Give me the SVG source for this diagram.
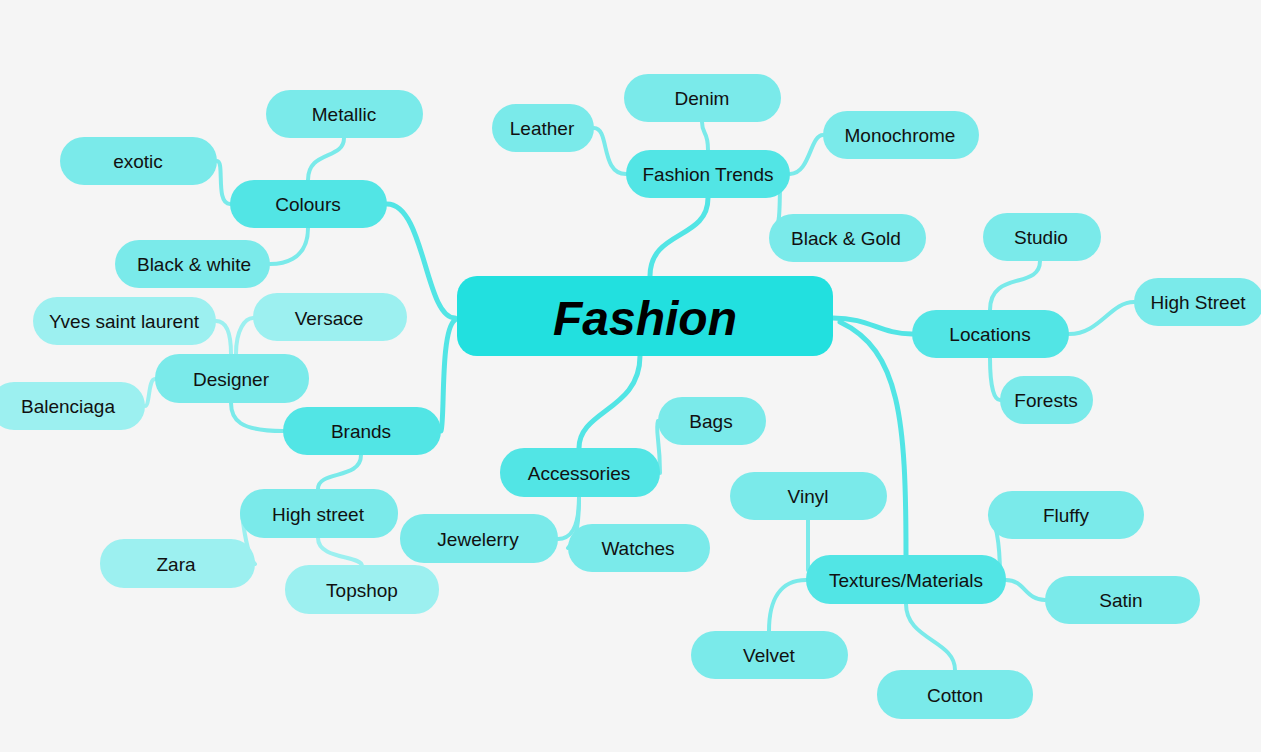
<svg xmlns="http://www.w3.org/2000/svg" width="1261" height="752" viewBox="0 0 1261 752">
<style>
text{font-family:"Liberation Sans",Arial,sans-serif;font-size:19px;fill:#111;text-anchor:middle;dominant-baseline:central}
.a rect{fill:#52e5e5}.b rect{fill:#7aeaea}.c rect{fill:#9cf0f0}
#links path{fill:none;stroke:#52e5e5;stroke-width:5;stroke-linecap:round}
#links .s{stroke:#7aeaea;stroke-width:4}
#links .t{stroke:#9cf0f0;stroke-width:4}
</style>
<rect width="1261" height="752" fill="#f5f5f5"/>
<g id="links">
<path d="M455,318 C425,318 425,204 387,204"/>
<path d="M455,320 C440,330 445,420 441,431"/>
<path d="M650,276 C650,230 708,240 708,198"/>
<path d="M833,318 C870,318 880,334 912,334"/>
<path d="M840,322 C900,350 906,420 906,555"/>
<path d="M640,356 C640,410 579,410 579,448"/>
<path class="s" d="M308,180 C308,150 344,160 344,138"/>
<path class="s" d="M230,204 C215,204 225,161 217,161"/>
<path class="s" d="M308,228 C308,262 280,264 270,264"/>
<path class="s" d="M708,150 C708,130 702,135 702,122"/>
<path class="s" d="M626,174 C600,174 610,128 594,128"/>
<path class="s" d="M790,174 C810,174 810,135 823,135"/>
<path class="s" d="M780,174 C780,210 780,230 772,238"/>
<path class="s" d="M990,310 C990,270 1040,290 1040,261"/>
<path class="s" d="M1069,334 C1100,334 1110,302 1134,302"/>
<path class="s" d="M990,358 C990,390 995,400 1000,400"/>
<path class="s" d="M361,455 C361,480 318,470 318,489"/>
<path class="s" d="M283,431 C240,431 231,420 231,403"/>
<path class="s" d="M660,473 C660,440 655,430 658,421"/>
<path class="s" d="M579,497 C579,530 570,539 558,539"/>
<path class="s" d="M579,497 C579,530 575,540 568,548"/>
<path class="s" d="M906,604 C906,640 955,640 955,670"/>
<path class="s" d="M806,580 C780,580 769,600 769,631"/>
<path class="s" d="M808,520 L808,570"/>
<path class="s" d="M1006,580 C1025,580 1025,600 1045,600"/>
<path class="s" d="M1000,575 C1000,540 995,520 990,515"/>
<path class="t" d="M231,354 C231,330 225,321 216,321"/>
<path class="t" d="M236,354 C236,330 245,318 253,318"/>
<path class="t" d="M155,379 C148,379 150,406 145,406"/>
<path class="t" d="M242,514 C245,540 250,560 255,564"/>
<path class="t" d="M318,538 C318,560 362,555 362,566"/>
</g>
<g id="fashion"><rect x="457" y="276" width="376" height="80" rx="20" fill="#22e0df"/><text x="645" y="318" style="font-size:48px;font-weight:bold;font-style:italic;fill:#000">Fashion</text></g>
<g id="colours" class="a"><rect x="230" y="180" width="157" height="48" rx="24"/><text x="308" y="204">Colours</text></g>
<g id="metallic" class="b"><rect x="266" y="90" width="157" height="48" rx="24"/><text x="344" y="114">Metallic</text></g>
<g id="exotic" class="b"><rect x="60" y="137" width="157" height="48" rx="24"/><text x="138" y="161">exotic</text></g>
<g id="bw" class="b"><rect x="115" y="240" width="155" height="48" rx="24"/><text x="194" y="264">Black &amp; white</text></g>
<g id="trends" class="a"><rect x="626" y="150" width="164" height="48" rx="24"/><text x="708" y="174">Fashion Trends</text></g>
<g id="denim" class="b"><rect x="624" y="74" width="157" height="48" rx="24"/><text x="702" y="98">Denim</text></g>
<g id="leather" class="b"><rect x="492" y="104" width="102" height="48" rx="24"/><text x="542" y="128">Leather</text></g>
<g id="mono" class="b"><rect x="823" y="111" width="156" height="48" rx="24"/><text x="900" y="135">Monochrome</text></g>
<g id="bg" class="b"><rect x="769" y="214" width="157" height="48" rx="24"/><text x="846" y="238">Black &amp; Gold</text></g>
<g id="locations" class="a"><rect x="912" y="310" width="157" height="48" rx="24"/><text x="990" y="334">Locations</text></g>
<g id="studio" class="b"><rect x="983" y="213" width="118" height="48" rx="24"/><text x="1041" y="237">Studio</text></g>
<g id="highst" class="b"><rect x="1134" y="278" width="130" height="48" rx="24"/><text x="1198" y="302">High Street</text></g>
<g id="forests" class="b"><rect x="1000" y="376" width="93" height="48" rx="24"/><text x="1046" y="400">Forests</text></g>
<g id="brands" class="a"><rect x="283" y="407" width="158" height="48" rx="24"/><text x="361" y="431">Brands</text></g>
<g id="designer" class="b"><rect x="155" y="354" width="154" height="49" rx="24"/><text x="231" y="379">Designer</text></g>
<g id="ysl" class="c"><rect x="33" y="297" width="183" height="48" rx="24"/><text x="124" y="321">Yves saint laurent</text></g>
<g id="versace" class="c"><rect x="253" y="293" width="154" height="48" rx="24"/><text x="329" y="318">Versace</text></g>
<g id="balenciaga" class="c"><rect x="-10" y="382" width="155" height="48" rx="24"/><text x="68" y="406">Balenciaga</text></g>
<g id="highstreet" class="b"><rect x="240" y="489" width="158" height="49" rx="24"/><text x="318" y="514">High street</text></g>
<g id="zara" class="c"><rect x="100" y="539" width="155" height="49" rx="24"/><text x="176" y="564">Zara</text></g>
<g id="topshop" class="c"><rect x="285" y="565" width="154" height="49" rx="24"/><text x="362" y="590">Topshop</text></g>
<g id="acc" class="a"><rect x="500" y="448" width="160" height="49" rx="24"/><text x="579" y="473">Accessories</text></g>
<g id="bags" class="b"><rect x="658" y="397" width="108" height="48" rx="24"/><text x="711" y="421">Bags</text></g>
<g id="jew" class="b"><rect x="400" y="514" width="158" height="49" rx="24"/><text x="478" y="539">Jewelerry</text></g>
<g id="watches" class="b"><rect x="568" y="524" width="142" height="48" rx="24"/><text x="638" y="548">Watches</text></g>
<g id="tex" class="a"><rect x="806" y="555" width="200" height="49" rx="24"/><text x="906" y="580">Textures/Materials</text></g>
<g id="vinyl" class="b"><rect x="730" y="472" width="157" height="48" rx="24"/><text x="808" y="496">Vinyl</text></g>
<g id="fluffy" class="b"><rect x="988" y="491" width="156" height="48" rx="24"/><text x="1066" y="515">Fluffy</text></g>
<g id="satin" class="b"><rect x="1045" y="576" width="155" height="48" rx="24"/><text x="1121" y="600">Satin</text></g>
<g id="velvet" class="b"><rect x="691" y="631" width="157" height="48" rx="24"/><text x="769" y="655">Velvet</text></g>
<g id="cotton" class="b"><rect x="877" y="670" width="156" height="49" rx="24"/><text x="955" y="695">Cotton</text></g>
</svg>
